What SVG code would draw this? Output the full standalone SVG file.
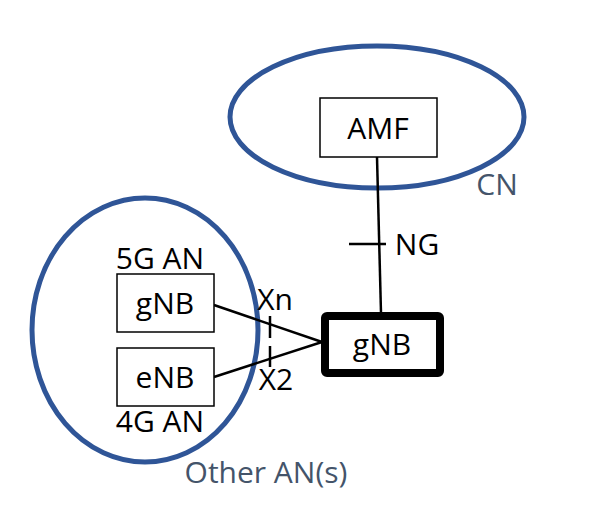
<svg xmlns="http://www.w3.org/2000/svg" width="600" height="530" viewBox="0 0 600 530">
<style>
.t{font-family:"Open Sans","Liberation Sans",sans-serif;font-size:30px;fill:#000}
.g{fill:#44546a}
.e{fill:none;stroke:#2f5597;stroke-width:5}
.b{fill:#fff;stroke:#000;stroke-width:1.5}
.c{stroke:#000;stroke-width:2.5;fill:none}
</style>
<rect width="600" height="530" fill="#fff"/>
<g id="cn"><ellipse class="e" cx="377" cy="117" rx="147" ry="71"/><text class="t g" x="497" y="195" text-anchor="middle">CN</text></g>
<g id="otheran"><ellipse class="e" cx="145" cy="330" rx="113" ry="132"/><text class="t g" x="266" y="483" text-anchor="middle">Other AN(s)</text>
<text class="t" x="160" y="269" text-anchor="middle">5G AN</text><text class="t" x="160" y="432" text-anchor="middle">4G AN</text></g>
<g id="connectors">
<line class="c" x1="377" y1="157" x2="381" y2="313"/>
<line class="c" x1="349" y1="244" x2="386" y2="244"/>
<line class="c" x1="214" y1="305" x2="322" y2="342"/>
<line class="c" x1="214" y1="377" x2="322" y2="342"/>
<line class="c" x1="270" y1="316" x2="270" y2="338"/>
<line class="c" x1="270" y1="346" x2="270" y2="367"/>
<text class="t" x="417" y="255" text-anchor="middle">NG</text>
<text class="t" x="275" y="310" text-anchor="middle">Xn</text>
<text class="t" x="276" y="390" text-anchor="middle">X2</text>
</g>
<g id="amf"><rect class="b" x="320" y="98" width="117" height="59"/><text class="t" x="378" y="139" text-anchor="middle">AMF</text></g>
<g id="gnb5g"><rect class="b" x="117" y="274" width="97" height="58"/><text class="t" x="165" y="314" text-anchor="middle">gNB</text></g>
<g id="enb"><rect class="b" x="117" y="348" width="97" height="58"/><text class="t" x="165" y="388" text-anchor="middle">eNB</text></g>
<g id="gnb"><rect x="325" y="316" width="115" height="57" rx="2" fill="#fff" stroke="#000" stroke-width="8"/><text class="t" x="382" y="355" text-anchor="middle">gNB</text></g>
</svg>
